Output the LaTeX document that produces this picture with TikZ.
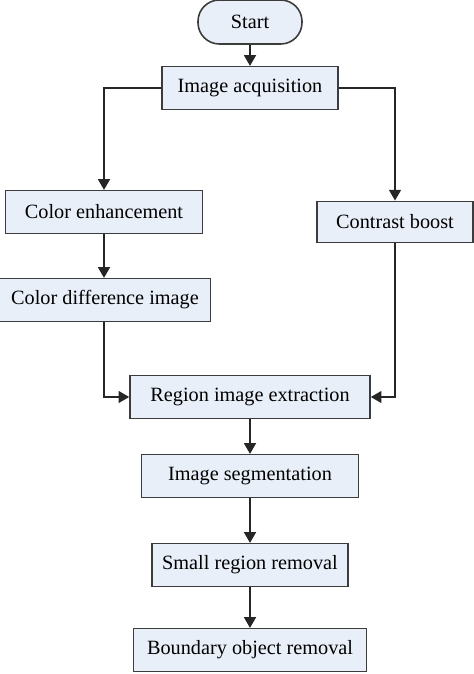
\documentclass[tikz,border=0pt]{standalone}
\usepackage{fontspec}
\setmainfont{Liberation Serif}
\usepackage{tikz}
\usetikzlibrary{arrows.meta,positioning,calc}
\definecolor{boxfill}{RGB}{233,239,249}
\definecolor{boxline}{RGB}{60,60,60}

\begin{document}
\begin{tikzpicture}[x=0.75pt,y=-0.75pt,font=\fontsize{15.2}{17}\selectfont]

\tikzset{stepbox/.style={draw=boxline,line width=1.2pt,fill=boxfill,inner sep=0pt,minimum height=32pt,shape=rectangle},
startnode/.style={stepbox,rounded corners=16pt,minimum height=33pt},
arr/.style={line width=1pt,draw=black!85,-{Triangle[width=9pt,length=8pt]}}}

% Frame
\useasboundingbox (0,0) rectangle (474,674);

% Nodes
\node[startnode,minimum width=78pt] (start) at (250,22) {Start};
\node[stepbox,minimum width=132pt] (acq) at (250,88) {Image acquisition};
\node[stepbox,minimum width=148pt] (enh) at (104,212) {Color enhancement};
\node[stepbox,minimum width=117pt,minimum height=31pt] (boost) at (395,222) {Contrast boost};
\node[stepbox,minimum width=158pt] (diff) at (105,300) {Color difference image};
\node[stepbox,minimum width=180pt] (extr) at (250,397) {Region image extraction};
\node[stepbox,minimum width=163pt] (seg) at (250,476) {Image segmentation};
\node[stepbox,minimum width=147pt] (small) at (250,565) {Small region removal};
\node[stepbox,minimum width=175pt] (bound) at (250,650) {Boundary object removal};

% Edges
\draw[arr] (start) -- (acq);
\draw[arr] (acq.west) -| (enh.north);
\draw[arr] (acq.east) -| (boost.north);
\draw[arr] (enh.south) -- (enh.south |- diff.north);
\draw[arr] (diff.south -| enh.south) |- (extr.west);
\draw[arr] (boost.south) |- (extr.east);
\draw[arr] (extr) -- (seg);
\draw[arr] (seg) -- (small);
\draw[arr] (small) -- (bound);

\end{tikzpicture}
\end{document}
